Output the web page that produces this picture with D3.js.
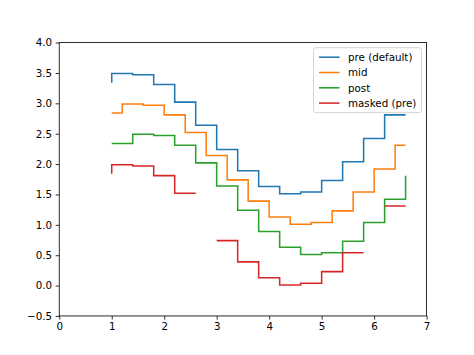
<!DOCTYPE html>
<html><head><meta charset="utf-8">
<script src="https://cdn.jsdelivr.net/npm/d3@7"></script>
<style>body{margin:0;background:#fff}svg{display:block}text{font-family:"DejaVu Sans",sans-serif}</style>
</head><body>
<script>
const xs = [1.0,1.4,1.8,2.2,2.6,3.0,3.4,3.8,4.2,4.6,5.0,5.4,5.8,6.2,6.6];
const preVals = [3.34,3.49,3.47,3.31,3.02,2.64,2.24,1.89,1.63,1.51,1.54,1.73,2.04,2.42,2.81];
const midVals = [2.84,2.99,2.97,2.81,2.52,2.14,1.74,1.39,1.13,1.01,1.04,1.23,1.54,1.92,2.31];
const postVals = [2.34,2.49,2.47,2.31,2.02,1.64,1.24,0.89,0.63,0.51,0.54,0.73,1.04,1.42,1.81];
const maskedVals = [1.84,1.99,1.97,1.81,1.52,null,0.74,0.39,0.13,0.01,0.04,0.23,0.54,null,1.31];
const xTicks = [0,1,2,3,4,5,6,7];
const yTicks = [-0.5,0.0,0.5,1.0,1.5,2.0,2.5,3.0,3.5,4.0];
const labels = ["pre (default)","mid","post","masked (pre)"];
const colors = ["#1f77b4","#ff7f0e","#2ca02c","#d62728"];

const W=474,H=355;
const L=59.25,R=426.6,T=42.6,B=315.95;
const svg=d3.select("body").append("svg").attr("width",W).attr("height",H);
const x=d3.scaleLinear().domain([0,7]).range([L,R]);
const y=d3.scaleLinear().domain([-0.5,4]).range([B,T]);

const lw=1.54;
const line=(curve)=>d3.line().x(d=>x(d[0])).y(d=>y(d[1])).curve(curve);
const g=svg.append("g");
g.append("path").attr("d",line(d3.curveStepBefore)(xs.map((v,i)=>[v,preVals[i]])))
 .attr("fill","none").attr("stroke",colors[0]).attr("stroke-width",lw);
g.append("path").attr("d",line(d3.curveStep)(xs.map((v,i)=>[v,midVals[i]])))
 .attr("fill","none").attr("stroke",colors[1]).attr("stroke-width",lw);
g.append("path").attr("d",line(d3.curveStepAfter)(xs.map((v,i)=>[v,postVals[i]])))
 .attr("fill","none").attr("stroke",colors[2]).attr("stroke-width",lw);
// masked pre-step: build step vertices, then break where value missing
const verts=[[xs[0],maskedVals[0]]];
for(let i=1;i<xs.length;i++){verts.push([xs[i-1],maskedVals[i]]);verts.push([xs[i],maskedVals[i]]);}
g.append("path").attr("d",d3.line().defined(d=>d[1]!=null).x(d=>x(d[0])).y(d=>y(d[1]))(verts))
 .attr("fill","none").attr("stroke",colors[3]).attr("stroke-width",lw);

// axes
const fs=10.3;
const xa=svg.append("g").attr("transform",`translate(0,${B})`)
 .call(d3.axisBottom(x).tickValues(xTicks).tickFormat(d3.format("d")).tickSize(3.6).tickPadding(3.6));
const ya=svg.append("g").attr("transform",`translate(${L},0)`)
 .call(d3.axisLeft(y).tickValues(yTicks).tickFormat(d3.format(".1f")).tickSize(3.6).tickPadding(3.6));
[xa,ya].forEach(a=>{a.select(".domain").remove();a.selectAll("line").attr("stroke","#000").attr("stroke-width",0.82);
 a.selectAll("text").attr("font-size",fs).attr("font-family","DejaVu Sans").attr("fill","#000");});
ya.selectAll("text").text(d=>d<0?"\u22120.5":d3.format(".1f")(d));
svg.append("rect").attr("x",L).attr("y",T).attr("width",R-L).attr("height",B-T)
 .attr("fill","none").attr("stroke","#000").attr("stroke-width",0.82);

// legend
const lx0=313.5,ly0=47.7,lw2=108,lh=65;
svg.append("rect").attr("x",lx0).attr("y",ly0).attr("width",lw2).attr("height",lh).attr("rx",2.5)
 .attr("fill","#fff").attr("fill-opacity",0.8).attr("stroke","#ccc").attr("stroke-width",0.82);
labels.forEach((lab,i)=>{
 const cy=ly0+9.5+i*15.3;
 svg.append("line").attr("x1",lx0+5.5).attr("x2",lx0+26).attr("y1",cy).attr("y2",cy)
  .attr("stroke",colors[i]).attr("stroke-width",lw);
 svg.append("text").attr("x",lx0+34.5).attr("y",cy).attr("dy","0.36em").attr("font-size",fs).attr("fill","#000").text(lab);
});
</script>
</body></html>
